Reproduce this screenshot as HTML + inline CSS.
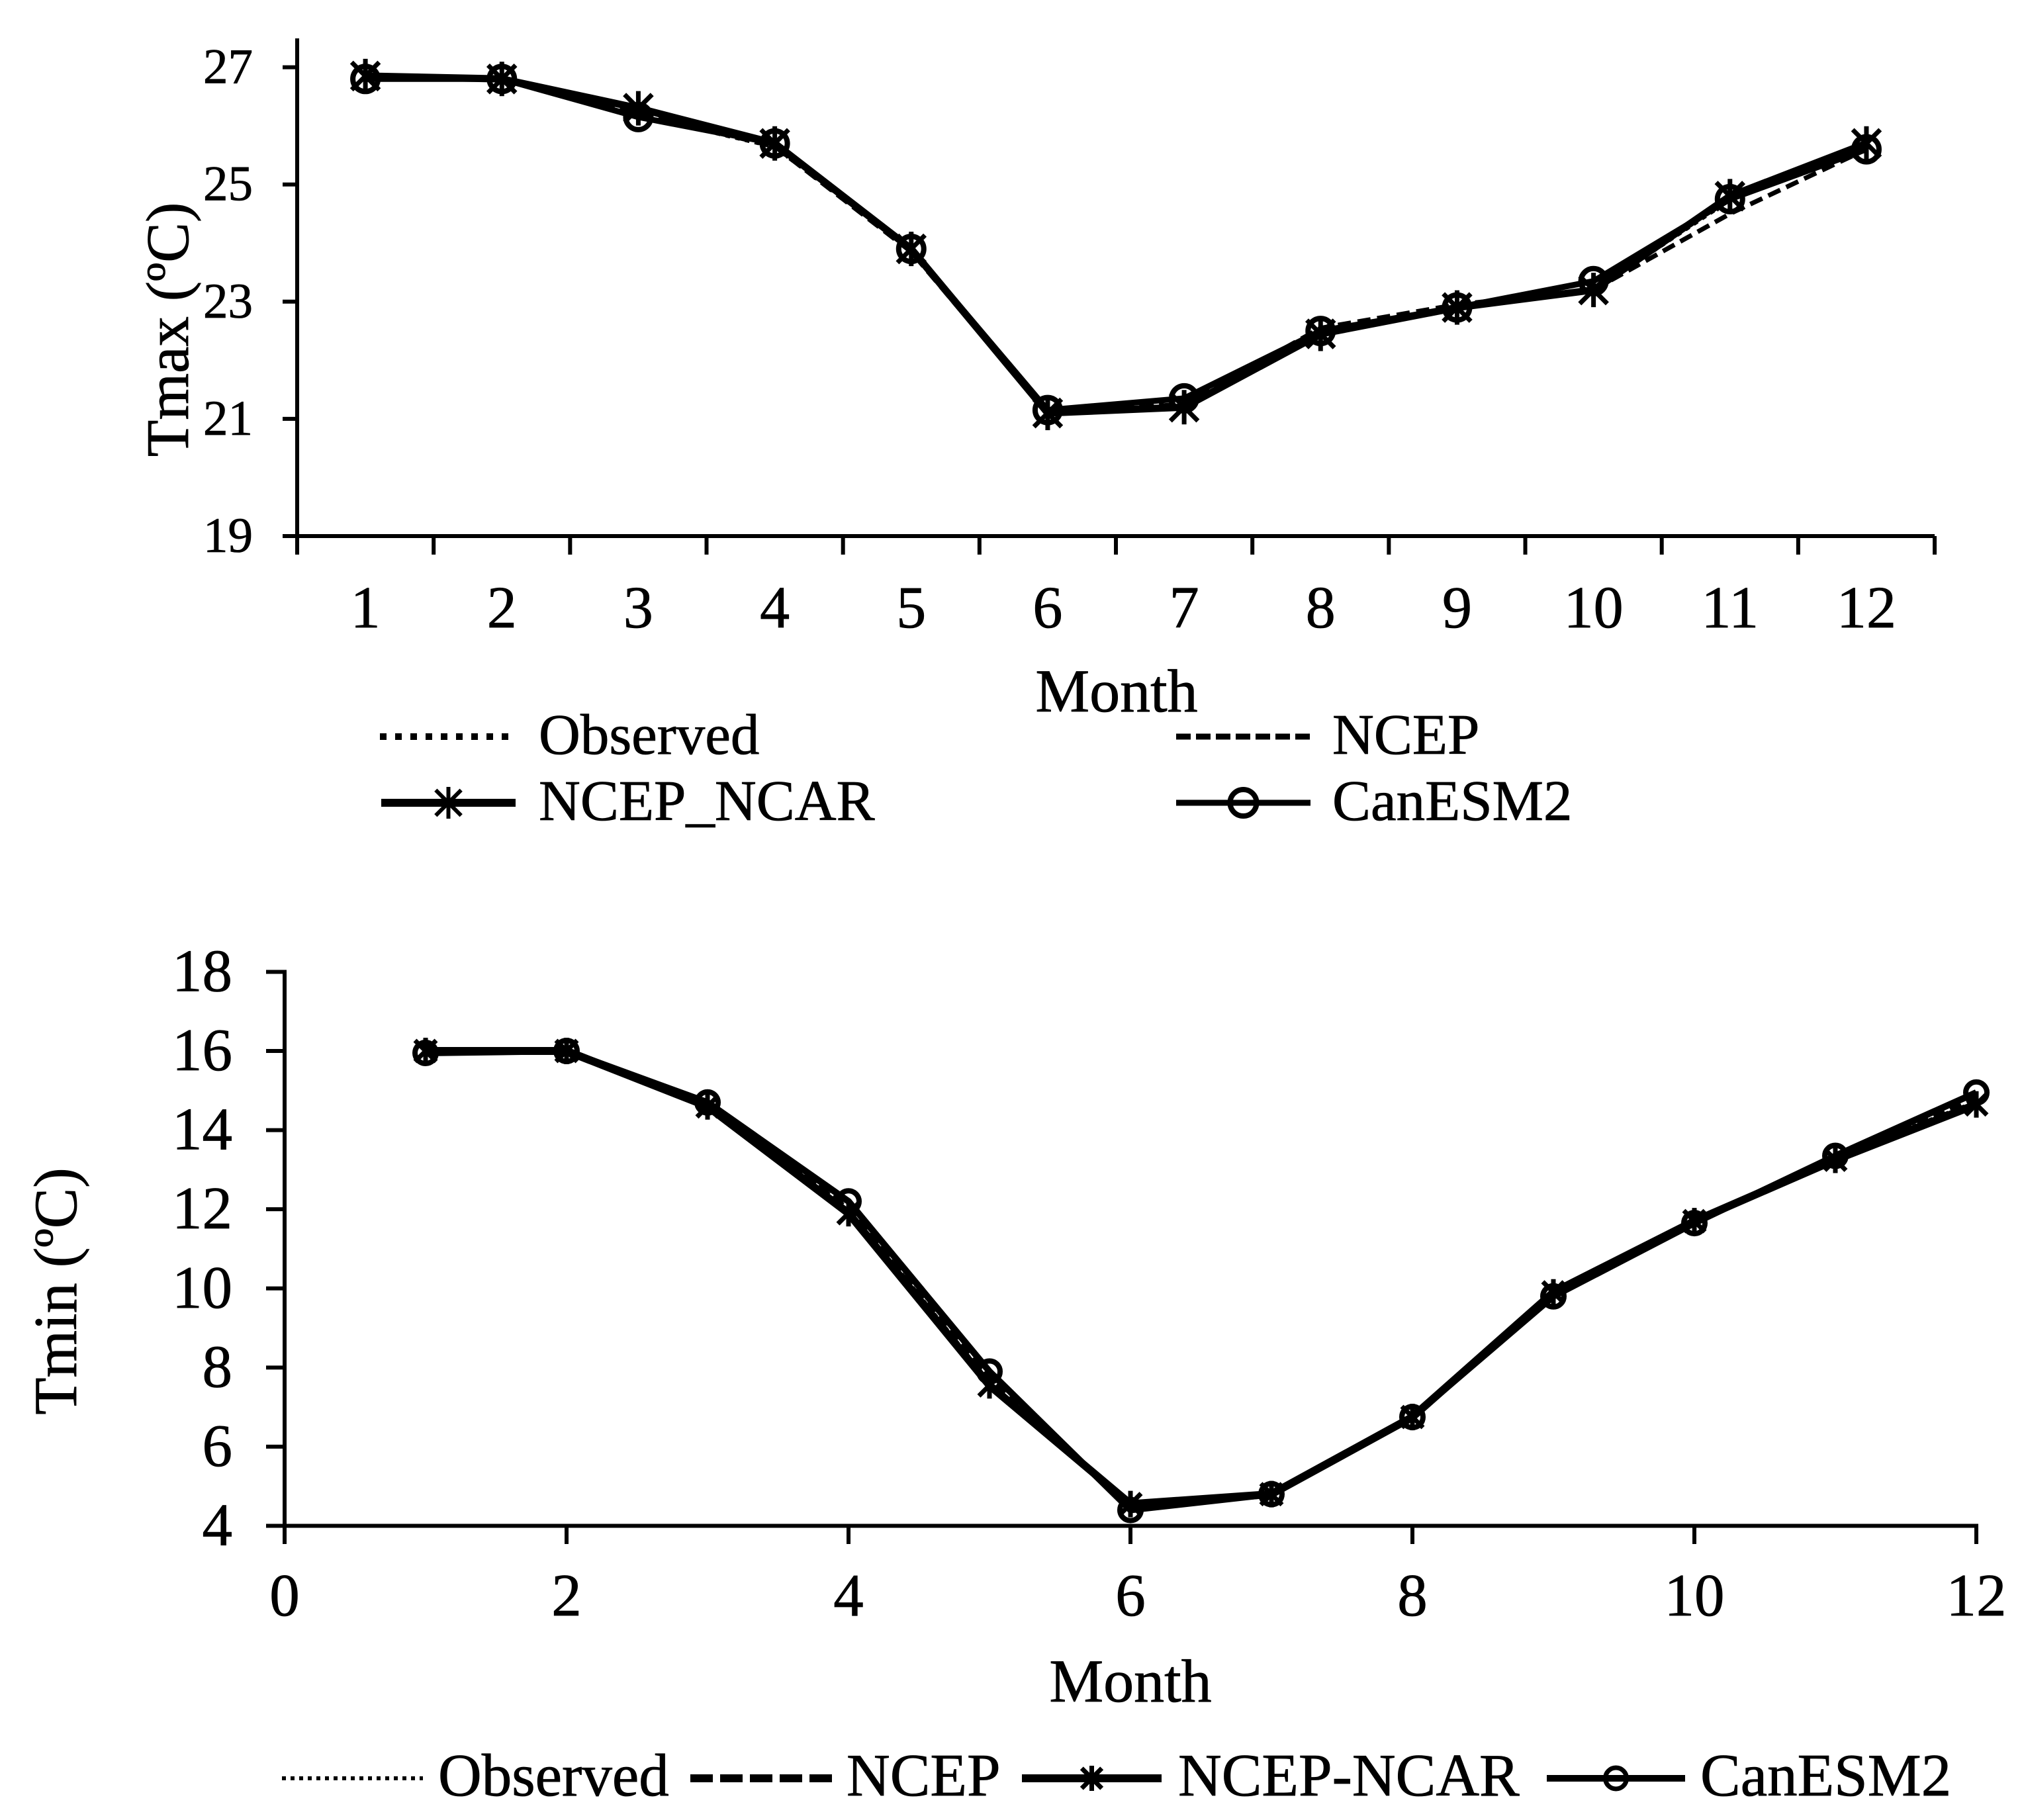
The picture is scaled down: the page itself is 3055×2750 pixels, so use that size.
<!DOCTYPE html>
<html>
<head>
<meta charset="utf-8">
<title>Tmax and Tmin by month</title>
<style>
html,body{margin:0;padding:0;background:#fff;}
svg{display:block;}
text{font-family:"Liberation Serif",serif;fill:#000;stroke:#000;stroke-width:0.8px;}
</style>
</head>
<body>
<svg id="figure" xmlns="http://www.w3.org/2000/svg" width="3055" height="2750" viewBox="0 0 3055 2750"></svg>
<script>
const topCategories = [1,2,3,4,5,6,7,8,9,10,11,12];
const topObserved = [26.8,26.8,26.2,25.65,23.9,21.1,21.25,22.5,22.9,23.2,24.75,25.65];
const topNcep = [26.8,26.8,26.2,25.65,23.85,21.1,21.25,22.55,22.95,23.2,24.5,25.6];
const topNcar = [26.85,26.8,26.3,25.7,23.9,21.1,21.2,22.45,22.9,23.2,24.8,25.7];
const topCan = [26.8,26.8,26.15,25.7,23.9,21.15,21.35,22.5,22.9,23.35,24.75,25.6];
const topYTicks = [19,21,23,25,27];

const botMonths = [1,2,3,4,5,6,7,8,9,10,11,12];
const botObserved = [15.95,16,14.6,12,7.6,4.5,4.8,6.75,9.85,11.7,13.3,14.7];
const botNcep = [15.95,16,14.6,12.05,7.7,4.5,4.8,6.75,9.85,11.7,13.3,14.8];
const botNcar = [16,16,14.6,11.9,7.55,4.55,4.8,6.75,9.9,11.7,13.25,14.65];
const botCan = [15.95,16,14.7,12.2,7.9,4.4,4.8,6.75,9.8,11.65,13.35,14.95];
const botYTicks = [4,6,8,10,12,14,16,18];
const botXTicks = [0,2,4,6,8,10,12];

const NS = 'http://www.w3.org/2000/svg';
const figureRoot = document.getElementById('figure');

function make(tag, attrs, parent, txt) {
  const el = document.createElementNS(NS, tag);
  for (const k in attrs) el.setAttribute(k, attrs[k]);
  if (txt !== undefined) el.textContent = txt;
  parent.appendChild(el);
  return el;
}
function topX(m) { return 449 + (m - 0.5) * 206.17; }
function topY(v) { return 810 - (v - 19) * 88.55; }
function botX(m) { return 430 + m * 213; }
function botY(v) { return 2305.5 - (v - 4) * 59.79; }

function asterisk(parent, x, y, r, w) {
  const g = make('g', {stroke:'#000','stroke-width':w,fill:'none'}, parent);
  
  
  const d = r * 0.8;
  make('path', {d:`M${x-d} ${y-d}L${x+d} ${y+d}M${x-d} ${y+d}L${x+d} ${y-d}M${x} ${y-r}L${x} ${y+r}`}, g);
}
function circleMark(parent, x, y, r, w) {
  const c = make('circle', {cx:x, cy:y, r:r, fill:'none', stroke:'#000', 'stroke-width':w}, parent);
  
  
}
function drawSeries(parent, seriesName, xs, vals, xf, yf, style) {
  const g = make('g', {}, parent);
  
  
  const pts = xs.map((m, i) => xf(m) + ',' + yf(vals[i])).join(' ');
  const line = make('polyline', {points:pts, fill:'none', stroke:'#000', 'stroke-width':style.w, 'stroke-dasharray':style.dash || 'none', 'stroke-linejoin':'round'}, g);
  
  
  xs.forEach((m, i) => {
    if (style.marker === 'star') asterisk(g, xf(m), yf(vals[i]), style.r, style.mw);
    if (style.marker === 'circle') circleMark(g, xf(m), yf(vals[i]), style.r, style.mw);
  });
}
function legendEntry(parent, entryName, label, x1, x2, y, tx, ty, fs, style) {
  const g = make('g', {}, parent);
  
  
  make('line', {x1:x1, x2:x2, y1:y, y2:y, stroke:'#000', 'stroke-width':style.w, 'stroke-dasharray':style.dash || 'none'}, g);
  const cx = (x1 + x2) / 2;
  if (style.marker === 'star') asterisk(g, cx, y, style.r, style.mw);
  if (style.marker === 'circle') circleMark(g, cx, y, style.r, style.mw);
  make('text', {x:tx, y:ty, 'font-size':fs}, g, label);
}

/* ---------- top chart ---------- */
const tmaxGroup = make('g', {}, figureRoot);



const topAxes = make('g', {stroke:'#000','stroke-width':6,fill:'none'}, tmaxGroup);


make('line', {x1:449, x2:449, y1:58, y2:838}, topAxes);
make('line', {x1:427, x2:topX(12.5), y1:810, y2:810}, topAxes);
topYTicks.forEach(v => {
  make('line', {x1:427, x2:449, y1:topY(v), y2:topY(v)}, topAxes);
  const t = make('text', {x:382, y:topY(v) + 24, 'text-anchor':'end', 'font-size':75}, tmaxGroup, String(v));
  
  
});
topCategories.forEach(m => {
  make('line', {x1:topX(m - 0.5), x2:topX(m - 0.5), y1:810, y2:838}, topAxes);
  const t = make('text', {x:topX(m), y:948, 'text-anchor':'middle', 'font-size':90}, tmaxGroup, String(m));
  
  
});
make('line', {x1:topX(12.5), x2:topX(12.5), y1:810, y2:838}, topAxes);

const topYTitle = make('text', {transform:'translate(284 498) rotate(-90)', 'text-anchor':'middle', 'font-size':91}, tmaxGroup, 'Tmax (ºC)');


const topXTitle = make('text', {x:1687, y:1075, 'text-anchor':'middle', 'font-size':92}, tmaxGroup, 'Month');



const sObs = {w:8, dash:'7 8'};
const sNcep = {w:7, dash:'20 10'};
const sNcar = {w:11, marker:'star', r:26, mw:7};
const sCan = {w:9, marker:'circle', r:19, mw:8};
drawSeries(tmaxGroup, 'tmax-observed', topCategories, topObserved, topX, topY, sObs);
drawSeries(tmaxGroup, 'tmax-ncep', topCategories, topNcep, topX, topY, sNcep);
drawSeries(tmaxGroup, 'tmax-ncep-ncar', topCategories, topNcar, topX, topY, sNcar);
drawSeries(tmaxGroup, 'tmax-canesm2', topCategories, topCan, topX, topY, sCan);

const topLegend = make('g', {}, tmaxGroup);


legendEntry(topLegend, 'legend-entry-observed', 'Observed', 574, 779, 1113, 814, 1139, 87, {w:10, dash:'10 13'});
legendEntry(topLegend, 'legend-entry-ncep', 'NCEP', 1777, 1980, 1113, 2013, 1139, 87, {w:9, dash:'22 8'});
legendEntry(topLegend, 'legend-entry-ncep-ncar', 'NCEP_NCAR', 576, 779, 1213, 814, 1239, 87, {w:12, marker:'star', r:24, mw:6});
legendEntry(topLegend, 'legend-entry-canesm2', 'CanESM2', 1777, 1980, 1213, 2013, 1239, 87, {w:9, marker:'circle', r:20, mw:8});

/* ---------- bottom chart ---------- */
const tminGroup = make('g', {}, figureRoot);



const botAxes = make('g', {stroke:'#000','stroke-width':6,fill:'none'}, tminGroup);


make('line', {x1:430, x2:430, y1:botY(18) - 3, y2:2333}, botAxes);
make('line', {x1:402, x2:botX(12) + 3, y1:botY(4), y2:botY(4)}, botAxes);
botYTicks.forEach(v => {
  make('line', {x1:402, x2:430, y1:botY(v), y2:botY(v)}, botAxes);
  const t = make('text', {x:351, y:botY(v) + 29, 'text-anchor':'end', 'font-size':91}, tminGroup, String(v));
  
  
});
botXTicks.forEach(m => {
  make('line', {x1:botX(m), x2:botX(m), y1:botY(4), y2:2333}, botAxes);
  const t = make('text', {x:botX(m), y:2441, 'text-anchor':'middle', 'font-size':91}, tminGroup, String(m));
  
  
});

const botYTitle = make('text', {transform:'translate(115 1951) rotate(-90)', 'text-anchor':'middle', 'font-size':92}, tminGroup, 'Tmin (ºC)');


const botXTitle = make('text', {x:1708, y:2571, 'text-anchor':'middle', 'font-size':92}, tminGroup, 'Month');



const bObs = {w:8, dash:'6 7'};
const bNcep = {w:9, dash:'18 9'};
const bNcar = {w:12, marker:'star', r:20, mw:7};
const bCan = {w:10, marker:'circle', r:16, mw:8};
drawSeries(tminGroup, 'tmin-observed', botMonths, botObserved, botX, botY, bObs);
drawSeries(tminGroup, 'tmin-ncep', botMonths, botNcep, botX, botY, bNcep);
drawSeries(tminGroup, 'tmin-ncep-ncar', botMonths, botNcar, botX, botY, bNcar);
drawSeries(tminGroup, 'tmin-canesm2', botMonths, botCan, botX, botY, bCan);

const botLegend = make('g', {}, tminGroup);


legendEntry(botLegend, 'legend-entry-observed', 'Observed', 426, 639, 2687, 662, 2713, 91, {w:6, dash:'6 7'});
legendEntry(botLegend, 'legend-entry-ncep', 'NCEP', 1043, 1258, 2687, 1279, 2713, 91, {w:12, dash:'34 11'});
legendEntry(botLegend, 'legend-entry-ncep-ncar', 'NCEP-NCAR', 1544, 1755, 2687, 1780, 2713, 91, {w:12, marker:'star', r:19, mw:7});
legendEntry(botLegend, 'legend-entry-canesm2', 'CanESM2', 2337, 2546, 2687, 2569, 2713, 91, {w:10, marker:'circle', r:16, mw:7});
</script>
</body>
</html>
